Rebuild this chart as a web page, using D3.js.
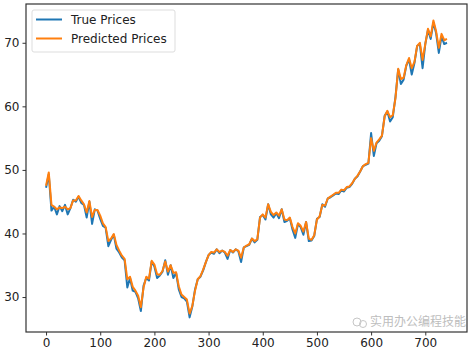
<!DOCTYPE html>
<html>
<head>
<meta charset="utf-8">
<script src="https://cdn.jsdelivr.net/npm/d3@7"></script>
<style>
  body { margin: 0; background: #fff; }
  text { font-family: "DejaVu Sans", sans-serif; }
</style>
</head>
<body>
<div class="viz"></div>
<script>
var step = 5;
var truePrices = [
  47.2, 49.3, 43.6, 44.2, 43.0, 44.3, 43.5, 44.5, 43.0, 44.0,
  45.3, 45.0, 45.8, 44.8, 44.5, 42.5, 45.0, 41.5, 43.8, 43.6,
  42.3, 41.2, 40.9, 38.0, 39.0, 39.8, 37.6, 37.0, 36.2, 35.8,
  31.5, 33.0, 31.0, 30.8, 29.8, 27.8, 31.8, 33.0, 32.6, 35.6,
  34.8, 33.0, 33.4, 34.0, 35.8, 33.5, 35.0, 33.0, 33.8, 31.2,
  30.0, 29.8, 29.3, 26.8, 28.5, 31.2, 32.8, 33.2, 34.2, 35.5,
  36.6, 37.0, 36.8, 37.5, 36.9, 37.3, 37.0, 36.0, 37.4, 37.0,
  37.5, 37.2, 35.5, 37.8, 38.0, 38.2, 39.2, 38.6, 39.0, 42.6,
  42.9, 42.2, 44.6, 43.0, 42.5, 43.2, 42.4, 43.8, 41.8, 42.0,
  42.4, 40.6, 39.3, 41.5, 41.0, 39.8, 41.8, 38.8, 38.9, 39.6,
  42.3, 42.6, 44.6, 44.2, 45.5, 45.7, 46.0, 46.3, 46.2, 46.8,
  46.6, 47.2, 47.3, 47.8, 48.6, 49.0, 49.8, 50.6, 50.8, 51.0,
  55.8, 52.2, 54.2, 54.6, 55.3, 58.5, 59.2, 57.6, 58.3, 61.5,
  65.8, 63.5, 64.2, 66.4, 67.4, 65.0, 66.8, 69.5, 69.8, 66.0,
  69.8, 72.0, 70.6, 73.2, 71.5, 68.4, 71.0, 69.8, 70.0
];
var predictedPrices = [
  47.5, 49.6, 44.5, 44.2, 43.8, 44.1, 44.0, 44.2, 43.8, 44.0,
  45.2, 45.2, 45.9, 45.2, 44.6, 43.3, 45.1, 42.6, 43.7, 43.7,
  42.8, 41.6, 41.0, 38.8, 39.2, 39.9, 38.2, 37.3, 36.5, 36.0,
  32.8, 33.2, 31.6, 31.0, 30.2, 28.4, 31.5, 33.2, 32.9, 35.7,
  35.1, 33.6, 33.5, 34.1, 35.6, 34.0, 35.0, 33.8, 33.9, 31.7,
  30.4, 30.0, 29.6, 27.4, 28.6, 31.0, 32.8, 33.3, 34.3, 35.5,
  36.6, 37.1, 37.0, 37.5, 37.1, 37.3, 37.1, 36.5, 37.4, 37.1,
  37.5, 37.3, 36.2, 37.8, 38.1, 38.3, 39.2, 38.8, 39.1, 42.5,
  43.0, 42.5, 44.6, 43.4, 42.9, 43.3, 42.8, 43.8, 42.2, 42.1,
  42.5, 41.0, 40.0, 41.6, 41.2, 40.3, 41.8, 39.2, 39.0, 39.7,
  42.2, 42.7, 44.5, 44.4, 45.5, 45.8, 46.1, 46.4, 46.4, 46.9,
  46.8, 47.3, 47.4, 47.9, 48.6, 49.1, 49.8, 50.6, 50.9, 51.1,
  55.0, 53.0, 54.3, 54.8, 55.4, 58.4, 59.3, 58.3, 58.6, 61.3,
  65.9, 64.3, 64.5, 66.5, 67.6, 66.0, 67.0, 69.5, 70.0, 67.3,
  69.8, 72.2, 71.0, 73.5, 71.8, 69.2, 71.4, 70.4, 70.6
];
var seriesNames = ["True Prices", "Predicted Prices"];
var seriesColors = ["#1f77b4", "#ff7f0e"];
var xTicks = [0, 100, 200, 300, 400, 500, 600, 700];
var yTicks = [30, 40, 50, 60, 70];
var watermark = "实用办公编程技能";

var width = 474,
  height = 354,
  margin = { top: 4, right: 7, bottom: 22, left: 26 };

var svg = d3
  .select(".viz")
  .append("svg")
  .attr("width", width)
  .attr("height", height);

var x = d3
  .scaleLinear()
  .domain([-37, 777])
  .range([margin.left, width - margin.right]);

var y = d3
  .scaleLinear()
  .domain([24.5, 76.1])
  .range([height - margin.bottom, margin.top]);

var line = d3
  .line()
  .x(function (d, i) { return x(i * step); })
  .y(function (d) { return y(d); });

var g = svg.append("g");

[truePrices, predictedPrices].forEach(function (s, k) {
  g.append("path")
    .datum(s)
    .attr("d", line)
    .attr("fill", "none")
    .attr("stroke", seriesColors[k])
    .attr("stroke-width", 2)
    .attr("stroke-linejoin", "round");
});

var xAxis = svg
  .append("g")
  .attr("transform", "translate(0," + (height - margin.bottom) + ")")
  .call(d3.axisBottom(x).tickValues(xTicks).tickSize(3.5).tickPadding(3).tickFormat(d3.format("d")));

var yAxis = svg
  .append("g")
  .attr("transform", "translate(" + margin.left + ",0)")
  .call(d3.axisLeft(y).tickValues(yTicks).tickSize(3.5).tickPadding(3).tickFormat(d3.format("d")));

[xAxis, yAxis].forEach(function (a) {
  a.select(".domain").remove();
  a.selectAll("line").attr("stroke", "#333");
  a.selectAll("text").attr("fill", "#222").style("font-size", "12px");
});

// frame
svg
  .append("rect")
  .attr("x", margin.left)
  .attr("y", margin.top)
  .attr("width", width - margin.left - margin.right)
  .attr("height", height - margin.top - margin.bottom)
  .attr("fill", "none")
  .attr("stroke", "#333")
  .attr("stroke-width", 1.2);

// legend
var legend = svg.append("g").attr("transform", "translate(32,10)");
legend
  .append("rect")
  .attr("width", 143)
  .attr("height", 42)
  .attr("rx", 2)
  .attr("fill", "#fff")
  .attr("fill-opacity", 0.8)
  .attr("stroke", "#ddd");

seriesNames.forEach(function (n, i) {
  legend
    .append("line")
    .attr("x1", 4)
    .attr("x2", 30)
    .attr("y1", 9.5 + i * 19)
    .attr("y2", 9.5 + i * 19)
    .attr("stroke", seriesColors[i])
    .attr("stroke-width", 2);
  legend
    .append("text")
    .attr("x", 39)
    .attr("y", 14 + i * 19)
    .style("font-size", "12px")
    .attr("fill", "#222")
    .text(n);
});

// watermark
var wm = svg.append("g").attr("transform", "translate(352,326)").attr("opacity", 0.55);
wm.append("circle").attr("cx", 5).attr("cy", -4).attr("r", 4).attr("fill", "none").attr("stroke", "#999");
wm.append("circle").attr("cx", 11).attr("cy", -2).attr("r", 3.5).attr("fill", "none").attr("stroke", "#999");
wm.append("text")
  .attr("x", 18)
  .attr("y", 0)
  .style("font-family", "Noto Sans CJK SC")
  .style("font-size", "12px")
  .attr("fill", "#888")
  .text(watermark);
</script>
</body>
</html>
